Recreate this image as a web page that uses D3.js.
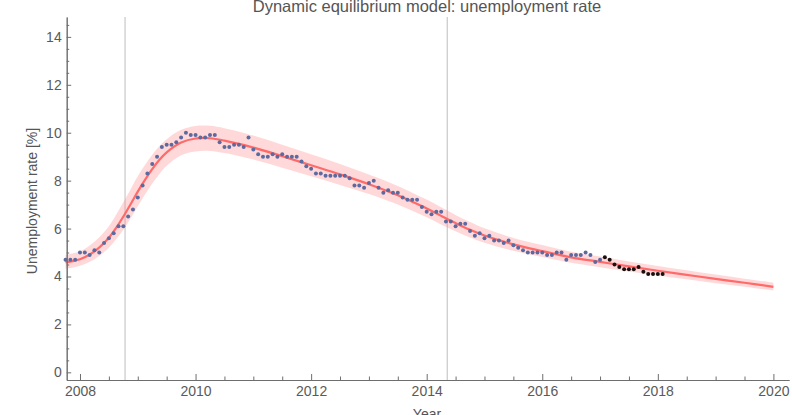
<!DOCTYPE html>
<html lang="en">
<head>
   <meta charset="utf-8">
   <title>Dynamic equilibrium model: unemployment rate</title>
   <script src="https://cdn.jsdelivr.net/npm/d3@7"></script>
   <style type="text/css">
      body { margin: 0; background: #fff; }
      svg { display: block; }
      .axis path, .axis line { stroke: #6e6e6e; }
      .axis text { fill: #5a5a5a; font-family: "Liberation Sans", Arial, sans-serif; font-size: 14px; }
   </style>
</head>
<body>
   <script type="text/javascript">

      var w = 792;
      var h = 415;

      // monthly unemployment rate [%], Sep 2007 .. Dec 2016 (data, blue)
      var startYear = 2007, startMonth = 9;
      var rateData = [
         4.7, 4.7, 4.7, 5.0,
         5.0, 4.9, 5.1, 5.0, 5.4, 5.6, 5.8, 6.1, 6.1, 6.5, 6.8, 7.3,
         7.8, 8.3, 8.7, 9.0, 9.4, 9.5, 9.5, 9.6, 9.8, 10.0, 9.9, 9.9,
         9.8, 9.8, 9.9, 9.9, 9.6, 9.4, 9.4, 9.5, 9.5, 9.4, 9.8, 9.3,
         9.1, 9.0, 9.0, 9.1, 9.0, 9.1, 9.0, 9.0, 9.0, 8.8, 8.6, 8.5,
         8.3, 8.3, 8.2, 8.2, 8.2, 8.2, 8.2, 8.1, 7.8, 7.8, 7.7, 7.9,
         8.0, 7.7, 7.5, 7.6, 7.5, 7.5, 7.3, 7.2, 7.2, 7.2, 6.9, 6.7,
         6.6, 6.7, 6.7, 6.3, 6.3, 6.1, 6.2, 6.2, 5.9, 5.7, 5.8, 5.6,
         5.7, 5.5, 5.5, 5.4, 5.5, 5.3, 5.2, 5.1, 5.0, 5.0, 5.0, 5.0,
         4.9, 4.9, 5.0, 5.0, 4.7, 4.9, 4.9, 4.9, 5.0, 4.9, 4.6, 4.7
      ];
      // Jan 2017 .. Jan 2018 (post-forecast data, black)
      var rateNew = [4.8, 4.7, 4.5, 4.4, 4.3, 4.3, 4.3, 4.4, 4.2, 4.1, 4.1, 4.1, 4.1];

      // model curve and error band
      var modelYears = [2007.75, 2008.0, 2008.25, 2008.5, 2008.625, 2008.78, 2008.9, 2009.0, 2009.125,
         2009.25, 2009.375, 2009.5, 2009.75, 2010.0, 2010.25, 2010.5, 2011.0, 2011.5, 2012.0, 2012.5,
         2013.0, 2013.5, 2013.75, 2014.0, 2014.25, 2014.5, 2014.75, 2015.0, 2015.5, 2016.0, 2016.5,
         2017.0, 2017.5, 2018.0, 2018.5, 2019.0, 2019.5, 2020.0];
      var modelMid = [4.59, 4.72, 5.05, 5.62, 6.03, 6.62, 7.12, 7.54, 8.03, 8.48, 8.87, 9.18, 9.59,
         9.76, 9.77, 9.67, 9.38, 9.02, 8.64, 8.26, 7.85, 7.39, 7.12, 6.84, 6.53, 6.23, 5.95, 5.71,
         5.34, 5.06, 4.80, 4.61, 4.42, 4.24, 4.07, 3.90, 3.74, 3.57];
      var modelHi = [4.90, 5.05, 5.45, 6.10, 6.58, 7.22, 7.75, 8.18, 8.65, 9.08, 9.45, 9.73, 10.12,
         10.28, 10.29, 10.19, 9.88, 9.50, 9.10, 8.70, 8.26, 7.78, 7.50, 7.21, 6.89, 6.57, 6.27, 6.01,
         5.61, 5.31, 5.03, 4.83, 4.63, 4.44, 4.26, 4.08, 3.91, 3.74];
      var modelLo = [4.32, 4.45, 4.72, 5.20, 5.55, 6.05, 6.52, 6.93, 7.42, 7.88, 8.28, 8.62, 9.06,
         9.22, 9.24, 9.15, 8.88, 8.54, 8.18, 7.82, 7.44, 7.00, 6.74, 6.47, 6.17, 5.89, 5.63, 5.41,
         5.07, 4.81, 4.57, 4.39, 4.21, 4.04, 3.88, 3.72, 3.57, 3.41];

      // shock centres (vertical lines)
      var shockYears = [2008.78, 2014.355];

      var xTicks = [2008, 2010, 2012, 2014, 2016, 2018, 2020];
      var yTicks = [0, 2, 4, 6, 8, 10, 12, 14];

      var title = "Dynamic equilibrium model: unemployment rate";
      var xLabel = "Year";
      var yLabel = "Unemployment rate [%]";

      function monthToYear(i) {
         var m = startMonth + i;
         return startYear + m / 12;
      }

      var dataPts = rateData.map(function(v, i) { return {t: monthToYear(i), v: v}; });
      var newPts = rateNew.map(function(v, i) { return {t: monthToYear(rateData.length + i), v: v}; });
      var model = modelYears.map(function(t, i) {
         return {t: t, v: modelMid[i], hi: modelHi[i], lo: modelLo[i]};
      });

      var xScale = d3.scaleLinear()
                     .domain([2007.77, 2020.27])
                     .range([66.7, 789]);

      var yScale = d3.scaleLinear()
                     .domain([-0.32, 14.83])
                     .range([380, 17]);

      var svg = d3.select("body")
                  .append("svg")
                  .attr("width", w)
                  .attr("height", h);

      // vertical lines at the shocks
      svg.selectAll("line.shock")
         .data(shockYears)
         .enter()
         .append("line")
         .attr("class", "shock")
         .attr("x1", function(d) { return xScale(d); })
         .attr("x2", function(d) { return xScale(d); })
         .attr("y1", yScale.range()[1])
         .attr("y2", yScale.range()[0])
         .attr("stroke", "#bdbdbd")
         .attr("stroke-width", 1);

      // error band
      var band = d3.area()
                   .x(function(d) { return xScale(d.t); })
                   .y0(function(d) { return yScale(d.lo); })
                   .y1(function(d) { return yScale(d.hi); })
                   .curve(d3.curveCatmullRom);

      svg.append("path")
         .datum(model)
         .attr("d", band)
         .attr("fill", "#ff8c8c")
         .attr("fill-opacity", 0.33);

      // model line
      var line = d3.line()
                   .x(function(d) { return xScale(d.t); })
                   .y(function(d) { return yScale(d.v); })
                   .curve(d3.curveCatmullRom);

      svg.append("path")
         .datum(model)
         .attr("d", line)
         .attr("fill", "none")
         .attr("stroke", "#ff6a6a")
         .attr("stroke-width", 2.2);

      // data points
      svg.selectAll("circle.data")
         .data(dataPts)
         .enter()
         .append("circle")
         .attr("class", "data")
         .attr("cx", function(d) { return xScale(d.t); })
         .attr("cy", function(d) { return yScale(d.v); })
         .attr("r", 2)
         .attr("fill", "#5d6aa0");

      svg.selectAll("circle.new")
         .data(newPts)
         .enter()
         .append("circle")
         .attr("class", "new")
         .attr("cx", function(d) { return xScale(d.t); })
         .attr("cy", function(d) { return yScale(d.v); })
         .attr("r", 2)
         .attr("fill", "#1a1010");

      // minor ticks
      var xMinor = d3.range(2008, 2020.3, 0.5).filter(function(d) { return xTicks.indexOf(d) < 0; });
      var yMinor = d3.range(0, 14.8, 0.5).filter(function(d) { return yTicks.indexOf(d) < 0; });

      svg.append("g")
         .attr("class", "axis")
         .attr("transform", "translate(0," + yScale.range()[0] + ")")
         .call(d3.axisBottom(xScale).tickValues(xMinor).tickSize(-3.5).tickFormat("").tickSizeOuter(0));

      svg.append("g")
         .attr("class", "axis")
         .attr("transform", "translate(0," + yScale.range()[0] + ")")
         .call(d3.axisBottom(xScale).tickValues(xTicks).tickSize(-6).tickSizeOuter(0)
                 .tickPadding(6).tickFormat(d3.format("d")));

      svg.append("g")
         .attr("class", "axis")
         .attr("transform", "translate(" + xScale.range()[0] + ",0)")
         .call(d3.axisLeft(yScale).tickValues(yMinor).tickSize(-2.5).tickFormat("").tickSizeOuter(0));

      svg.append("g")
         .attr("class", "axis")
         .attr("transform", "translate(" + xScale.range()[0] + ",0)")
         .call(d3.axisLeft(yScale).tickValues(yTicks).tickSize(-4.5).tickSizeOuter(0)
                 .tickPadding(5).tickFormat(d3.format("d")));

      // labels
      svg.append("text")
         .attr("x", 427)
         .attr("y", 12)
         .attr("text-anchor", "middle")
         .attr("fill", "#555")
         .style("font-family", "'Liberation Sans', Arial, sans-serif")
         .style("font-size", "16.5px")
         .text(title);

      svg.append("text")
         .attr("x", 427)
         .attr("y", 419)
         .attr("text-anchor", "middle")
         .attr("fill", "#555")
         .style("font-family", "'Liberation Sans', Arial, sans-serif")
         .style("font-size", "14px")
         .text(xLabel);

      svg.append("text")
         .attr("transform", "translate(37,201) rotate(-90)")
         .attr("text-anchor", "middle")
         .attr("fill", "#555")
         .style("font-family", "'Liberation Sans', Arial, sans-serif")
         .style("font-size", "14px")
         .text(yLabel);

   </script>
</body>
</html>
